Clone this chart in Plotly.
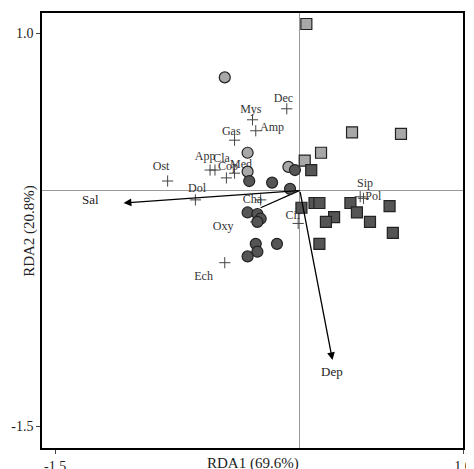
import plotly.graph_objects as go

# species scores (crosses)
sp_names = ["Dec", "Mys", "Amp", "Gas", "App", "Cla", "Med", "Cop", "Ost", "Dol",
            "Cha", "Cir", "Sip", "Pol", "Oxy", "Ech"]
sp_x = [-0.08, -0.29, -0.27, -0.40, -0.55, -0.52, -0.40, -0.45, -0.81, -0.64,
        -0.24, -0.01, 0.37, 0.39, -0.27, -0.46]
sp_y = [0.52, 0.45, 0.38, 0.32, 0.13, 0.13, 0.11, 0.08, 0.06, -0.06,
        -0.06, -0.21, -0.04, -0.05, -0.20, -0.46]
sp_lx = [-0.10, -0.30, -0.17, -0.42, -0.58, -0.48, -0.36, -0.44, -0.85, -0.63,
         -0.29, -0.04, 0.40, 0.45, -0.47, -0.59]
sp_ly = [0.58, 0.51, 0.40, 0.37, 0.21, 0.20, 0.16, 0.15, 0.15, 0.01,
         -0.06, -0.16, 0.04, -0.04, -0.23, -0.55]

# sample scores
c_light_x = [-0.46, -0.32, -0.32, -0.07]
c_light_y = [0.72, 0.24, 0.12, 0.15]
c_dark_x = [-0.31, -0.17, -0.06, -0.03, -0.32, -0.26, -0.24, -0.26, -0.27, -0.26, -0.32, -0.14]
c_dark_y = [0.06, 0.05, 0.01, 0.13, -0.14, -0.15, -0.18, -0.20, -0.34, -0.39, -0.42, -0.34]
s_light_x = [0.04, 0.32, 0.62, 0.13, 0.03]
s_light_y = [1.06, 0.37, 0.36, 0.24, 0.19]
s_dark_x = [0.07, 0.09, 0.12, 0.31, 0.35, 0.43, 0.55, 0.57, 0.21, 0.16, 0.12, 0.01]
s_dark_y = [0.13, -0.08, -0.08, -0.08, -0.14, -0.20, -0.10, -0.27, -0.17, -0.20, -0.34, -0.11]

# environmental arrows
env_names = ["Sal", "Dep"]
env_x = [-1.08, 0.20]
env_y = [-0.08, -1.08]
env_lx = [-1.28, 0.20]
env_ly = [-0.06, -1.15]
cha_x, cha_y = -0.24, -0.11

font = "Liberation Serif, Times New Roman, serif"
fig = go.Figure()

fig.add_trace(go.Scatter(x=[0, cha_x], y=[0, cha_y], mode="lines",
                         line=dict(color="black", width=1.3), hoverinfo="skip"))

fig.add_trace(go.Scatter(x=sp_x, y=sp_y, mode="markers",
                         marker=dict(symbol="cross-thin", size=8,
                                     line=dict(color="#444", width=1))))
fig.add_trace(go.Scatter(x=sp_lx, y=sp_ly, mode="text", text=sp_names,
                         textfont=dict(family=font, size=12, color="#333")))

for mx, my, sym, col in [(c_light_x, c_light_y, "circle", "#a8a8a8"),
                         (c_dark_x, c_dark_y, "circle", "#555555"),
                         (s_light_x, s_light_y, "square", "#a8a8a8"),
                         (s_dark_x, s_dark_y, "square", "#555555")]:
    fig.add_trace(go.Scatter(x=mx, y=my, mode="markers",
                             marker=dict(symbol=sym, size=11, color=col,
                                         line=dict(color="#222", width=1.2))))

for name, ex, ey, lx, ly in zip(env_names, env_x, env_y, env_lx, env_ly):
    fig.add_annotation(x=ex, y=ey, ax=0, ay=0, xref="x", yref="y", axref="x", ayref="y",
                       showarrow=True, arrowhead=2, arrowsize=1.2, arrowwidth=1.3,
                       arrowcolor="black", text="")
    fig.add_annotation(x=lx, y=ly, text=name, showarrow=False,
                       font=dict(family=font, size=13, color="#222"))

# axis titles placed by hand so margins stay fixed
fig.add_annotation(x=0.5, y=-0.012, xref="paper", yref="paper", yanchor="top",
                   text="RDA1 (69.6%)", showarrow=False,
                   font=dict(family=font, size=15, color="#222"))
fig.add_annotation(x=-0.055, y=0.5, xref="paper", yref="paper", textangle=-90,
                   text="RDA2 (20.8%)", showarrow=False,
                   font=dict(family=font, size=15, color="#222"))

axis = dict(showgrid=False, zeroline=True, zerolinecolor="#999", zerolinewidth=1,
            showline=True, linecolor="black", linewidth=1.5, mirror=True,
            ticks="outside", ticklen=4, automargin=False,
            tickfont=dict(family=font, size=14, color="#222"))
fig.update_xaxes(range=[-1.58, 1.0], tickvals=[-1.5, 1.0], ticktext=["-1.5", "1.0"], **axis)
fig.update_yaxes(range=[-1.64, 1.13], tickvals=[-1.5, 1.0], ticktext=["-1.5", "1.0"], **axis)
fig.update_layout(width=474, height=469, showlegend=False,
                  plot_bgcolor="white", paper_bgcolor="white",
                  margin=dict(l=34, r=19, t=5, b=29))
fig.write_html("out.html")
